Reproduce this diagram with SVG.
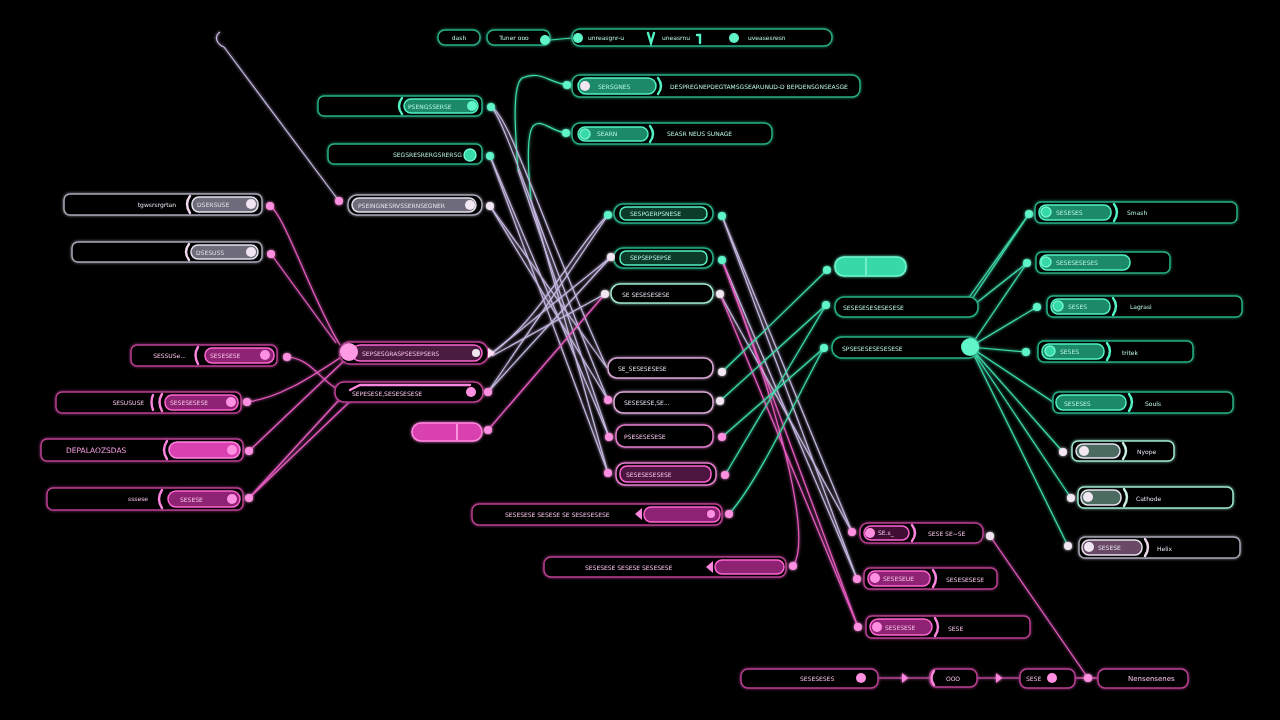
<svg xmlns="http://www.w3.org/2000/svg" width="1280" height="720" viewBox="0 0 1280 720">
<defs>
<filter id="glow" x="-20%" y="-50%" width="140%" height="200%">
<feGaussianBlur stdDeviation="1.8" result="b"/>
<feMerge><feMergeNode in="b"/><feMergeNode in="SourceGraphic"/></feMerge>
</filter>
<style>
.to{fill:#000;stroke:#27ad84;stroke-width:1.5}
.po{fill:#000;stroke:#b93f92;stroke-width:1.5}
.wo{fill:#000;stroke:#a9a6b6;stroke-width:1.5}
.tf{fill:#1a8a68;stroke:#52f2c2;stroke-width:1.5}
.pf{fill:#8e2373;stroke:#ff66d2;stroke-width:1.5}
.wf{fill:#6e6c7a;stroke:#e6e2ee;stroke-width:1.5}
.tfs{fill:#37d9a8;stroke:#6ff7cf;stroke-width:1.5}
.pfs{fill:#d93fb0;stroke:#ff86df;stroke-width:1.5}
.td{fill:#5ff5c8}
.pd{fill:#ff8fe0}
.wd{fill:#f1e6f2}
.br{fill:none;stroke-width:2.4;stroke-linecap:round}
.tt{font-family:"DejaVu Sans",sans-serif;font-size:6px;fill:#b8f5e2}
.pt{font-family:"DejaVu Sans",sans-serif;font-size:6px;fill:#f6c2e8}
.wt{font-family:"DejaVu Sans",sans-serif;font-size:6px;fill:#e6e2ee}
.ct{fill:none;stroke:#3edcab;stroke-width:1.2}
.cp{fill:none;stroke:#e95cc2;stroke-width:1.2}
.cw{fill:none;stroke:#c6b9e2;stroke-width:1.2}
</style>
</defs>
<rect width="1280" height="720" fill="#000"/>

<g id="connectors" filter="url(#glow)">
<path class="cw" d="M224,47 L339,201"/>
<path class="cw" d="M224,47 C216,44 214,36 220,32"/>
<path class="ct" d="M550,40 L572,38"/>
<path class="ct" d="M567,85 C548,82 540,70 522,78 C512,86 515,130 518,170"/>
<path class="cw" d="M518,170 L609,437"/>
<path class="ct" d="M566,133 C550,131 542,118 533,126 C526,136 528,170 531,200"/>
<path class="cw" d="M531,200 L608,473"/>
<path class="cw" d="M491,107 C510,115 540,220 607,368"/>
<path class="cw" d="M491,107 C505,118 545,250 608,400"/>
<path class="cw" d="M490,156 L609,437"/>
<path class="cw" d="M490,156 L608,473"/>
<path class="cw" d="M490,206 L608,400"/>
<path class="cw" d="M490,206 L607,368"/>
<path class="cp" d="M270,206 C285,215 312,300 340,345"/>
<path class="cp" d="M271,254 L336,343"/>
<path class="cp" d="M287,357 C315,358 325,392 350,392"/>
<path class="cp" d="M247,402 C282,398 318,372 343,356"/>
<path class="cp" d="M249,451 L346,359"/>
<path class="cp" d="M249,498 L350,388"/>
<path class="cp" d="M249,498 L364,388"/>
<path class="cw" d="M492,353 C540,320 580,240 608,215"/>
<path class="cw" d="M492,353 L611,257"/>
<path class="cw" d="M492,356 L605,294"/>
<path class="cw" d="M488,392 L608,215"/>
<path class="cw" d="M488,392 L611,257"/>
<path class="cp" d="M488,430 L605,294"/>
<path class="cw" d="M722,216 L852,532"/>
<path class="cw" d="M722,216 L857,579"/>
<path class="cw" d="M722,260 L857,579"/>
<path class="cp" d="M722,260 L858,627"/>
<path class="cw" d="M720,294 L852,532"/>
<path class="cp" d="M720,294 L858,627"/>
<path class="cp" d="M793,566 C806,548 802,470 722,260"/>
<path class="ct" d="M722,372 L827,270"/>
<path class="ct" d="M720,401 L826,305"/>
<path class="ct" d="M722,437 L824,348"/>
<path class="ct" d="M725,475 L826,305"/>
<path class="ct" d="M729,514 C760,480 800,390 824,348"/>
<path class="ct" d="M960,310 L1029,214"/>
<path class="ct" d="M968,305 L1029,214"/>
<path class="ct" d="M975,304 L1027,263"/>
<path class="ct" d="M970,347 L1027,263"/>
<path class="ct" d="M970,347 L1037,307"/>
<path class="ct" d="M970,347 L1026,352"/>
<path class="ct" d="M970,347 L1053,402"/>
<path class="ct" d="M970,347 L1063,452"/>
<path class="ct" d="M970,347 L1071,498"/>
<path class="ct" d="M970,347 L1068,546"/>
<path class="cp" d="M990,536 L1088,678"/>
<path class="cp" d="M878,678 L930,678"/>
<path class="cp" d="M977,678 L1020,678"/>
<path class="cp" d="M1075,678 L1098,678"/>
</g>

<g id="n1" filter="url(#glow)"><rect class="to" x="438" y="30" width="42" height="15" rx="7"/><text class="tt" x="459" y="40" text-anchor="middle">dash</text></g>
<g id="n2" filter="url(#glow)"><rect class="to" x="487" y="30" width="63" height="15" rx="7"/><text class="tt" x="514" y="40" text-anchor="middle">Tuner ooo</text><circle class="td" cx="545" cy="40" r="5"/></g>
<g id="n3" filter="url(#glow)"><rect class="to" x="572" y="29" width="260" height="17" rx="8"/><circle class="td" cx="578" cy="38" r="5"/><text class="tt" x="588" y="40">unreasgnr-u</text><path class="br" stroke="#52f2c2" d="M648,33 L651,43 L654,33"/><text class="tt" x="662" y="40">uneasrnu</text><path class="br" stroke="#52f2c2" d="M697,35 L700,35 L700,43"/><circle class="td" cx="734" cy="38" r="5"/><text class="tt" x="748" y="40">uveasesresn</text></g>

<g id="n4" filter="url(#glow)"><rect class="to" x="572" y="75" width="288" height="22" rx="8"/><rect class="tf" x="578" y="78" width="78" height="16" rx="8"/><circle class="wd" cx="585" cy="86" r="5"/><path class="br" stroke="#52f2c2" d="M658,78 Q664,86 658,94"/><text class="tt" x="670" y="89">DESPREGNEPDEGTAMSGSEARUNUD-D BEPDENSGNSEASGE</text><text class="tt" x="598" y="89">SERSGNES</text><circle class="td" cx="567" cy="85" r="4"/></g>
<g id="n5" filter="url(#glow)"><rect class="to" x="572" y="123" width="200" height="21" rx="8"/><rect class="tf" x="578" y="127" width="70" height="14" rx="7"/><circle class="tfs" cx="585" cy="134" r="5"/><path class="br" stroke="#52f2c2" d="M650,126 Q656,134 650,142"/><text class="tt" x="597" y="136">SEARN</text><text class="tt" x="667" y="136">SEASR NEUS SUNAGE</text><circle class="td" cx="566" cy="133" r="4"/></g>

<g id="n6" filter="url(#glow)"><rect class="to" x="318" y="96" width="164" height="20" rx="6"/><path class="br" stroke="#52f2c2" d="M402,98 Q396,106 402,114"/><rect class="tf" x="404" y="99" width="74" height="14" rx="7"/><text class="tt" x="408" y="109">PSENGSSERSE</text><circle class="td" cx="472" cy="106" r="5"/><circle class="td" cx="491" cy="107" r="4"/></g>
<g id="n7" filter="url(#glow)"><rect class="to" x="328" y="144" width="154" height="20" rx="6"/><text class="tt" x="462" y="157" text-anchor="end">SEGSRESRERGSRERSG</text><circle class="tfs" cx="470" cy="155" r="6"/><circle class="td" cx="490" cy="156" r="4"/></g>
<g id="n8" filter="url(#glow)"><rect class="wo" x="348" y="195" width="134" height="20" rx="9"/><rect class="wf" x="352" y="198" width="124" height="14" rx="7"/><text class="wt" x="358" y="208">PSEINGNESRVSSERNSEGNER</text><circle class="wd" cx="470" cy="205" r="5"/><circle class="wd" cx="490" cy="206" r="4"/><circle class="pd" cx="339" cy="201" r="4"/></g>

<g id="n9" filter="url(#glow)"><rect class="wo" x="64" y="194" width="198" height="21" rx="6"/><path class="br" stroke="#f0d8ee" d="M190,196 Q184,204 190,213"/><rect class="wf" x="192" y="197" width="66" height="15" rx="7"/><text class="wt" x="197" y="207">DSERSUSE</text><circle class="wd" cx="251" cy="204" r="5"/><text class="wt" x="176" y="207" text-anchor="end">tgwsrsrgrtan</text><circle class="pd" cx="270" cy="206" r="4"/></g>
<g id="n10" filter="url(#glow)"><rect class="wo" x="72" y="242" width="190" height="20" rx="6"/><path class="br" stroke="#f0d8ee" d="M189,244 Q183,252 189,260"/><rect class="wf" x="191" y="245" width="67" height="14" rx="7"/><text class="wt" x="196" y="255">DSESUSS</text><circle class="wd" cx="251" cy="252" r="5"/><circle class="pd" cx="271" cy="254" r="4"/></g>

<g id="n11" filter="url(#glow)"><rect class="po" x="131" y="345" width="146" height="21" rx="6"/><text class="pt" x="186" y="358" text-anchor="end">SESSUSe...</text><path class="br" stroke="#ff86df" d="M198,347 Q193,355 198,364"/><rect class="pf" x="205" y="348" width="69" height="15" rx="7"/><text class="pt" x="210" y="358">SESESESE</text><circle class="pd" cx="265" cy="355" r="5"/><circle class="pd" cx="287" cy="357" r="4"/></g>
<g id="n12" filter="url(#glow)"><rect class="po" x="56" y="392" width="185" height="21" rx="6"/><text class="pt" x="144" y="405" text-anchor="end">SESUSUSE</text><path class="br" stroke="#ff86df" d="M153,395 Q150,402 153,410"/><path class="br" stroke="#ff86df" d="M162,394 Q157,402 162,411"/><rect class="pf" x="165" y="395" width="73" height="15" rx="7"/><text class="pt" x="170" y="405">SESESESESE</text><circle class="pd" cx="231" cy="402" r="5"/><circle class="pd" cx="247" cy="402" r="4"/></g>
<g id="n13" filter="url(#glow)"><rect class="po" x="41" y="439" width="202" height="22" rx="6"/><text class="pt" x="66" y="453" style="font-size:7.5px;fill:#ff9fe6">DEPALAOZSDAS</text><path class="br" stroke="#ff86df" d="M167,441 Q161,450 167,459"/><rect class="pfs" x="169" y="442" width="71" height="16" rx="8"/><circle class="pd" cx="232" cy="450" r="5"/><circle class="pd" cx="249" cy="451" r="4"/></g>
<g id="n14" filter="url(#glow)"><rect class="po" x="47" y="488" width="196" height="22" rx="6"/><text class="pt" x="148" y="501" text-anchor="end">sssese</text><path class="br" stroke="#ff86df" d="M162,490 Q156,499 162,508"/><rect class="pf" x="168" y="491" width="72" height="16" rx="8"/><text class="pt" x="180" y="502">SESESE</text><circle class="pd" cx="232" cy="499" r="5"/><circle class="pd" cx="249" cy="498" r="4"/></g>

<g id="n15" filter="url(#glow)"><rect class="po" x="340" y="342" width="148" height="22" rx="10"/><rect class="pf" x="352" y="345" width="130" height="16" rx="8" style="fill:#4a1a40"/><circle cx="349" cy="352" r="9" fill="#ff9be4"/><text class="pt" x="362" y="356">SEPSESGRASPSESEPSERS</text><circle class="wd" cx="476" cy="353" r="4"/><path d="M488,348 L495,353 L488,358 Z" fill="#ffe0f6"/></g>
<g id="n16" filter="url(#glow)"><rect class="po" x="335" y="382" width="148" height="20" rx="9"/><path class="br" stroke="#ff86df" d="M350,390 L360,385 L470,385"/><text class="pt" x="352" y="396">SEPESESE,SESESESESE</text><circle class="pd" cx="471" cy="392" r="5"/><circle class="pd" cx="488" cy="392" r="4"/></g>
<g id="n17" filter="url(#glow)"><rect class="pfs" x="412" y="423" width="70" height="18" rx="9"/><line x1="457" y1="424" x2="457" y2="440" stroke="#ffb2ec" stroke-width="1.5"/><circle class="pd" cx="488" cy="430" r="4"/></g>

<g id="n18" filter="url(#glow)"><rect class="to" x="614" y="204" width="99" height="19" rx="9"/><rect class="tf" x="620" y="207" width="87" height="13" rx="6" style="fill:#0b3a2c"/><text class="tt" x="630" y="216">SESPGERPSNESE</text><circle class="td" cx="608" cy="215" r="4"/><circle class="td" cx="722" cy="216" r="4"/></g>
<g id="n19" filter="url(#glow)"><rect class="to" x="614" y="248" width="99" height="20" rx="9"/><rect class="tf" x="620" y="251" width="87" height="14" rx="6" style="fill:#0b3a2c"/><text class="tt" x="630" y="260">SEPSEPSEPSE</text><circle class="wd" cx="611" cy="257" r="4"/><circle class="td" cx="722" cy="260" r="4"/></g>
<g id="n20" filter="url(#glow)"><rect class="wo" x="611" y="284" width="102" height="19" rx="9" style="stroke:#9fe6cf"/><text class="wt" x="622" y="297">SE SESESESESE</text><circle class="wd" cx="605" cy="294" r="4"/><circle class="wd" cx="720" cy="294" r="4"/></g>

<g id="n21" filter="url(#glow)"><rect class="wo" x="608" y="358" width="105" height="20" rx="9" style="stroke:#d9a8d6"/><text class="wt" x="618" y="371">SE_SESESESESE</text><circle class="wd" cx="722" cy="372" r="4"/></g>
<g id="n22" filter="url(#glow)"><rect class="wo" x="614" y="392" width="99" height="21" rx="9" style="stroke:#d9a8d6"/><text class="wt" x="624" y="405">SESESESE,SE...</text><circle class="pd" cx="608" cy="400" r="4"/><circle class="wd" cx="720" cy="401" r="4"/></g>
<g id="n23" filter="url(#glow)"><rect class="po" x="616" y="425" width="97" height="22" rx="9" style="stroke:#e47ccb"/><text class="pt" x="624" y="439">PSESESESESE</text><circle class="pd" cx="609" cy="437" r="4"/><circle class="pd" cx="722" cy="437" r="4"/></g>
<g id="n24" filter="url(#glow)"><rect class="po" x="616" y="463" width="100" height="22" rx="9" style="stroke:#e47ccb"/><rect class="pf" x="620" y="466" width="91" height="16" rx="7" style="fill:#4d1540"/><text class="pt" x="626" y="477">SESESESESESE</text><circle class="pd" cx="608" cy="473" r="4"/><circle class="pd" cx="725" cy="475" r="4"/></g>

<g id="n25" filter="url(#glow)"><rect class="po" x="472" y="504" width="250" height="21" rx="7"/><text class="pt" x="505" y="517">SESESESE SESESE SE SESESESESE</text><path d="M642,508 L635,514 L642,520 Z" fill="#ff86df"/><rect class="pf" x="644" y="507" width="76" height="15" rx="7"/><circle class="pd" cx="711" cy="514" r="4"/><circle class="pd" cx="729" cy="514" r="4"/></g>
<g id="n26" filter="url(#glow)"><rect class="po" x="544" y="557" width="242" height="20" rx="7"/><text class="pt" x="585" y="570">SESESESE SESESE SESESESE</text><path d="M713,561 L706,567 L713,573 Z" fill="#ff86df"/><rect class="pf" x="715" y="560" width="69" height="14" rx="7"/><circle class="pd" cx="793" cy="566" r="4"/></g>

<g id="n27" filter="url(#glow)"><rect class="tfs" x="835" y="257" width="71" height="19" rx="9"/><line x1="866" y1="258" x2="866" y2="275" stroke="#9ffbe0" stroke-width="1.2"/><circle class="td" cx="827" cy="270" r="4"/></g>
<g id="n28" filter="url(#glow)"><rect class="to" x="835" y="297" width="143" height="20" rx="9"/><text class="tt" x="843" y="310">SESESESESESESESE</text><circle class="td" cx="826" cy="305" r="4"/></g>
<g id="n29" filter="url(#glow)"><rect class="to" x="832" y="337" width="146" height="21" rx="10"/><text class="tt" x="842" y="351">SPSESESESESESESE</text><circle cx="970" cy="347" r="9" fill="#5ff5c8"/><circle class="td" cx="824" cy="348" r="4"/></g>

<g id="n30" filter="url(#glow)"><rect class="to" x="1035" y="202" width="202" height="21" rx="6"/><rect class="tf" x="1039" y="205" width="72" height="15" rx="7"/><circle class="tfs" cx="1046" cy="212" r="5"/><text class="tt" x="1056" y="215">SESESES</text><path class="br" stroke="#52f2c2" d="M1114,204 Q1120,212 1114,221"/><text class="tt" x="1127" y="215">Smash</text><circle class="td" cx="1029" cy="214" r="4"/></g>
<g id="n31" filter="url(#glow)"><rect class="to" x="1036" y="252" width="134" height="21" rx="6"/><rect class="tf" x="1040" y="255" width="90" height="15" rx="7"/><circle class="tfs" cx="1046" cy="262" r="5"/><text class="tt" x="1056" y="265">SESESESESES</text><circle class="td" cx="1027" cy="263" r="4"/></g>
<g id="n32" filter="url(#glow)"><rect class="to" x="1047" y="296" width="195" height="21" rx="6"/><rect class="tf" x="1051" y="299" width="59" height="15" rx="7"/><circle class="tfs" cx="1058" cy="306" r="5"/><text class="tt" x="1068" y="309">SESES</text><path class="br" stroke="#52f2c2" d="M1113,298 Q1119,306 1113,315"/><text class="tt" x="1130" y="309">Lagrasi</text><circle class="td" cx="1037" cy="307" r="4"/></g>
<g id="n33" filter="url(#glow)"><rect class="to" x="1038" y="341" width="155" height="21" rx="6"/><rect class="tf" x="1042" y="344" width="62" height="15" rx="7"/><circle class="tfs" cx="1050" cy="351" r="5"/><text class="tt" x="1060" y="354">SESES</text><path class="br" stroke="#52f2c2" d="M1107,343 Q1113,351 1107,360"/><text class="tt" x="1122" y="355">tritek</text><circle class="td" cx="1026" cy="352" r="4"/></g>
<g id="n34" filter="url(#glow)"><rect class="to" x="1053" y="392" width="180" height="21" rx="6"/><rect class="tf" x="1056" y="395" width="70" height="15" rx="7"/><text class="tt" x="1064" y="406">SESESES</text><path class="br" stroke="#52f2c2" d="M1129,394 Q1135,402 1129,411"/><text class="tt" x="1145" y="406">Souls</text></g>
<g id="n35" filter="url(#glow)"><rect class="wo" x="1072" y="441" width="102" height="20" rx="6" style="stroke:#9fe6cf"/><rect class="wf" x="1076" y="444" width="44" height="14" rx="7" style="fill:#4b6b60"/><circle class="wd" cx="1084" cy="451" r="5"/><path class="br" stroke="#c8efe2" d="M1123,443 Q1129,451 1123,459"/><text class="wt" x="1137" y="454">Nyope</text><circle class="wd" cx="1063" cy="452" r="4"/></g>
<g id="n36" filter="url(#glow)"><rect class="wo" x="1078" y="487" width="155" height="21" rx="6" style="stroke:#9fe6cf"/><rect class="wf" x="1081" y="490" width="40" height="15" rx="7" style="fill:#4b6b60"/><circle class="wd" cx="1088" cy="497" r="5"/><path class="br" stroke="#c8efe2" d="M1124,489 Q1130,497 1124,506"/><text class="wt" x="1136" y="501">Cathode</text><circle class="wd" cx="1071" cy="498" r="4"/></g>
<g id="n37" filter="url(#glow)"><rect class="wo" x="1079" y="537" width="161" height="21" rx="6"/><rect class="wf" x="1082" y="540" width="60" height="15" rx="7" style="fill:#6a4a66"/><circle class="wd" cx="1089" cy="547" r="5"/><text class="wt" x="1098" y="550">SESESE</text><path class="br" stroke="#f0d8ee" d="M1145,539 Q1151,547 1145,556"/><text class="wt" x="1157" y="551">Helix</text><circle class="wd" cx="1068" cy="546" r="4"/></g>

<g id="n38" filter="url(#glow)"><rect class="po" x="860" y="523" width="123" height="20" rx="8"/><rect class="pf" x="864" y="526" width="45" height="14" rx="7" style="fill:#3f1034"/><circle class="pd" cx="870" cy="533" r="5"/><text class="pt" x="878" y="535">SE.s_</text><path class="br" stroke="#ff86df" d="M912,525 Q918,533 912,541"/><text class="pt" x="928" y="536">SESE SE~SE</text><circle class="pd" cx="852" cy="532" r="4"/><circle class="wd" cx="990" cy="536" r="4"/></g>
<g id="n39" filter="url(#glow)"><rect class="po" x="864" y="568" width="133" height="21" rx="6"/><rect class="pf" x="868" y="571" width="62" height="15" rx="7"/><circle class="pd" cx="875" cy="578" r="5"/><text class="pt" x="883" y="581">SESESEUE</text><path class="br" stroke="#ff86df" d="M933,570 Q939,578 933,587"/><text class="pt" x="946" y="582">SESESESESE</text><circle class="pd" cx="857" cy="579" r="4"/></g>
<g id="n40" filter="url(#glow)"><rect class="po" x="866" y="616" width="164" height="22" rx="6"/><rect class="pf" x="870" y="619" width="62" height="16" rx="8"/><circle class="pd" cx="877" cy="627" r="5"/><text class="pt" x="885" y="630">SESESESE</text><path class="br" stroke="#ff86df" d="M935,618 Q941,627 935,636"/><text class="pt" x="948" y="631">SESE</text><circle class="pd" cx="858" cy="627" r="4"/></g>

<g id="n41" filter="url(#glow)"><rect class="po" x="741" y="669" width="137" height="19" rx="7"/><text class="pt" x="800" y="681">SESESESES</text><circle class="pd" cx="861" cy="678" r="5"/></g>
<g id="n42" filter="url(#glow)"><path d="M902,673 L908,678 L902,683 Z" fill="#ff86df"/><rect class="po" x="930" y="669" width="47" height="18" rx="7"/><path class="br" stroke="#ff86df" d="M934,671 Q929,678 934,685"/><text class="pt" x="953" y="681" text-anchor="middle">OOO</text></g>
<g id="n43" filter="url(#glow)"><path d="M996,673 L1002,678 L996,683 Z" fill="#ff86df"/><rect class="po" x="1020" y="669" width="55" height="19" rx="7"/><text class="pt" x="1026" y="681">SESE</text><circle class="pd" cx="1052" cy="678" r="5"/><circle class="pd" cx="1088" cy="678" r="4"/></g>
<g id="n44" filter="url(#glow)"><rect class="po" x="1098" y="669" width="90" height="19" rx="7"/><text class="pt" x="1128" y="681" style="font-size:7px">Nensensenes</text></g>
</svg>
